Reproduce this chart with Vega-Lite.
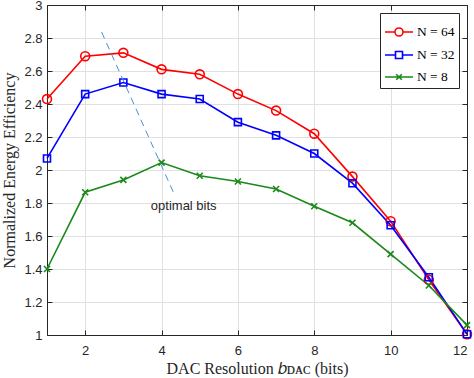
{
  "$schema": "https://vega.github.io/schema/vega-lite/v6.json",
  "width": 420,
  "height": 330,
  "autosize": "none",
  "padding": {"left": 47, "top": 5, "right": 7, "bottom": 43},
  "background": "white",
  "config": {
    "view": {"stroke": "#262626", "strokeWidth": 1},
    "axis": {
      "labelFont": "Liberation Sans",
      "labelFontSize": 13,
      "labelColor": "#262626",
      "titleFont": "Liberation Serif",
      "titleFontSize": 16,
      "titleFontWeight": "normal",
      "titleColor": "#262626",
      "domainColor": "#262626",
      "tickColor": "#262626",
      "gridColor": "#e0e0e0",
      "tickSize": -5
    },
    "legend": {
      "labelFont": "Liberation Serif",
      "labelFontSize": 13.5,
      "labelColor": "#000000"
    }
  },
  "datasets": {
    "series": [
      {"bits": 1, "N": "N = 64", "eff": 2.43},
      {"bits": 2, "N": "N = 64", "eff": 2.69},
      {"bits": 3, "N": "N = 64", "eff": 2.71},
      {"bits": 4, "N": "N = 64", "eff": 2.61},
      {"bits": 5, "N": "N = 64", "eff": 2.58},
      {"bits": 6, "N": "N = 64", "eff": 2.46},
      {"bits": 7, "N": "N = 64", "eff": 2.36},
      {"bits": 8, "N": "N = 64", "eff": 2.22},
      {"bits": 9, "N": "N = 64", "eff": 1.96},
      {"bits": 10, "N": "N = 64", "eff": 1.69},
      {"bits": 11, "N": "N = 64", "eff": 1.335},
      {"bits": 12, "N": "N = 64", "eff": 1.005},
      {"bits": 1, "N": "N = 32", "eff": 2.07},
      {"bits": 2, "N": "N = 32", "eff": 2.46},
      {"bits": 3, "N": "N = 32", "eff": 2.53},
      {"bits": 4, "N": "N = 32", "eff": 2.46},
      {"bits": 5, "N": "N = 32", "eff": 2.43},
      {"bits": 6, "N": "N = 32", "eff": 2.29},
      {"bits": 7, "N": "N = 32", "eff": 2.21},
      {"bits": 8, "N": "N = 32", "eff": 2.1},
      {"bits": 9, "N": "N = 32", "eff": 1.92},
      {"bits": 10, "N": "N = 32", "eff": 1.665},
      {"bits": 11, "N": "N = 32", "eff": 1.35},
      {"bits": 12, "N": "N = 32", "eff": 1.005},
      {"bits": 1, "N": "N = 8", "eff": 1.4},
      {"bits": 2, "N": "N = 8", "eff": 1.865},
      {"bits": 3, "N": "N = 8", "eff": 1.94},
      {"bits": 4, "N": "N = 8", "eff": 2.045},
      {"bits": 5, "N": "N = 8", "eff": 1.965},
      {"bits": 6, "N": "N = 8", "eff": 1.93},
      {"bits": 7, "N": "N = 8", "eff": 1.885},
      {"bits": 8, "N": "N = 8", "eff": 1.78},
      {"bits": 9, "N": "N = 8", "eff": 1.68},
      {"bits": 10, "N": "N = 8", "eff": 1.49},
      {"bits": 11, "N": "N = 8", "eff": 1.3},
      {"bits": 12, "N": "N = 8", "eff": 1.06}
    ],
    "optimal": [
      {"bits": 2.43, "eff": 2.836},
      {"bits": 4.32, "eff": 1.86}
    ],
    "note": [
      {"bits": 3.72, "eff": 1.78, "label": "optimal bits"}
    ]
  },
  "layer": [
    {
      "data": {"name": "series"},
      "mark": {"type": "line", "strokeWidth": 1.6},
      "encoding": {
        "x": {"field": "bits", "type": "quantitative",
          "scale": {"domain": [1, 12], "nice": false, "zero": false},
          "axis": {"orient": "bottom", "values": [2, 4, 6, 8, 10, 12], "title": "DAC Resolution 𝑏ᴅᴀᴄ (bits)", "grid": true, "labelPadding": 14, "titlePadding": 3}},
        "y": {"field": "eff", "type": "quantitative",
          "scale": {"domain": [1, 3], "nice": false, "zero": false},
          "axis": {"orient": "left", "values": [1, 1.2, 1.4, 1.6, 1.8, 2, 2.2, 2.4, 2.6, 2.8, 3], "format": "~g", "title": "Normalized Energy Efficiency", "grid": true, "labelPadding": 10, "titlePadding": 6}},
        "color": {"field": "N", "type": "nominal",
          "scale": {"domain": ["N = 64", "N = 32", "N = 8"], "range": ["#ff0000", "#0000ff", "#1a891a"]}}
      }
    },
    {
      "data": {"name": "series"},
      "transform": [{"filter": "datum.N == 'N = 64'"}],
      "mark": {"type": "point", "shape": "circle", "size": 80, "filled": false, "strokeWidth": 1.6, "opacity": 1},
      "encoding": {
        "x": {"field": "bits", "type": "quantitative", "axis": null},
        "y": {"field": "eff", "type": "quantitative", "axis": null},
        "color": {"field": "N", "type": "nominal"}
      }
    },
    {
      "data": {"name": "series"},
      "transform": [{"filter": "datum.N == 'N = 32'"}],
      "mark": {"type": "point", "shape": "square", "size": 49, "filled": false, "strokeWidth": 1.6, "opacity": 1},
      "encoding": {
        "x": {"field": "bits", "type": "quantitative", "axis": null},
        "y": {"field": "eff", "type": "quantitative", "axis": null},
        "color": {"field": "N", "type": "nominal"}
      }
    },
    {
      "data": {"name": "series"},
      "transform": [{"filter": "datum.N == 'N = 8'"}],
      "mark": {"type": "point", "shape": "M-1,-1L1,1M-1,1L1,-1", "size": 36, "filled": false, "strokeWidth": 1.6, "opacity": 1},
      "encoding": {
        "x": {"field": "bits", "type": "quantitative", "axis": null},
        "y": {"field": "eff", "type": "quantitative", "axis": null},
        "color": {"field": "N", "type": "nominal"}
      }
    },
    {
      "data": {"name": "series"},
      "transform": [{"filter": "false"}],
      "mark": {"type": "point", "filled": false, "strokeWidth": 1.6, "opacity": 1},
      "encoding": {
        "x": {"field": "bits", "type": "quantitative", "axis": null},
        "y": {"field": "eff", "type": "quantitative", "axis": null},
        "color": {"field": "N", "type": "nominal",
          "legend": {"title": null, "orient": "top-right", "offset": 8, "fillColor": "white", "strokeColor": "#262626", "padding": 4, "symbolSize": 784, "symbolStrokeWidth": 1.6, "symbolFillColor": "transparent", "rowPadding": -22, "labelOffset": 3}},
        "shape": {"field": "N", "type": "nominal",
          "scale": {"domain": ["N = 64", "N = 32", "N = 8"], "range": [
            "M-1,0L-0.286,0M0.286,0L1,0M-0.286,0A0.286,0.286 0 1,0 0.286,0A0.286,0.286 0 1,0 -0.286,0",
            "M-1,0L-0.25,0M0.25,0L1,0M-0.25,-0.25L0.25,-0.25L0.25,0.25L-0.25,0.25Z",
            "M-1,0L1,0M-0.2,-0.2L0.2,0.2M-0.2,0.2L0.2,-0.2"
          ]},
          "legend": {"title": null, "orient": "top-right", "offset": 8, "fillColor": "white", "strokeColor": "#262626", "padding": 4, "symbolSize": 784, "symbolStrokeWidth": 1.6, "symbolFillColor": "transparent", "rowPadding": -22, "labelOffset": 3}}
      }
    },
    {
      "data": {"name": "optimal"},
      "mark": {"type": "line", "strokeDash": [7, 5], "color": "#4a8fd0", "strokeWidth": 1},
      "encoding": {
        "x": {"field": "bits", "type": "quantitative", "axis": null},
        "y": {"field": "eff", "type": "quantitative", "axis": null}
      }
    },
    {
      "data": {"name": "note"},
      "mark": {"type": "text", "align": "left", "baseline": "middle", "font": "Liberation Sans", "fontSize": 13, "color": "#262626"},
      "encoding": {
        "x": {"field": "bits", "type": "quantitative", "axis": null},
        "y": {"field": "eff", "type": "quantitative", "axis": null},
        "text": {"field": "label"}
      }
    },
    {
      "data": {"name": "series"},
      "transform": [{"filter": "false"}],
      "mark": {"type": "point"},
      "encoding": {
        "x": {"field": "bits", "type": "quantitative",
          "axis": {"orient": "top", "values": [2, 4, 6, 8, 10, 12], "labels": false, "title": null, "grid": false, "domain": true}},
        "y": {"field": "eff", "type": "quantitative",
          "axis": {"orient": "right", "values": [1, 1.2, 1.4, 1.6, 1.8, 2, 2.2, 2.4, 2.6, 2.8, 3], "labels": false, "title": null, "grid": false, "domain": true}}
      }
    }
  ],
  "resolve": {"axis": {"x": "independent", "y": "independent"}}
}
